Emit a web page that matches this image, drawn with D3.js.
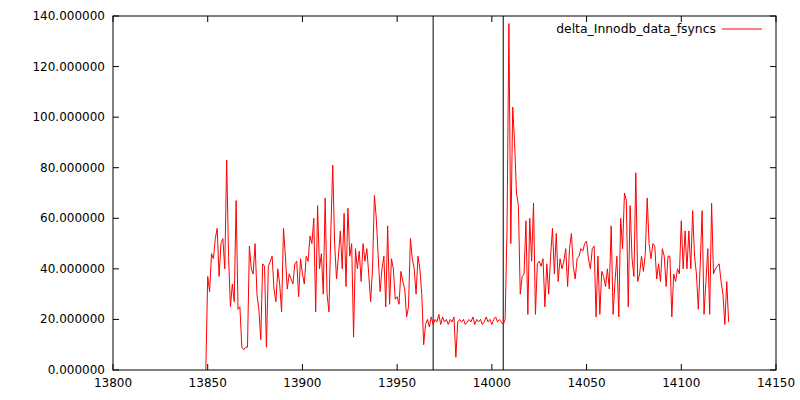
<!DOCTYPE html>
<html><head><meta charset="utf-8">
<script src="https://cdn.jsdelivr.net/npm/d3@7"></script>
<style>body{margin:0;background:#fff}</style></head>
<body><svg id="c" width="800" height="400"></svg>
<script>
const startX = 13849;
const values = [0,37,31,46,44,52,56,37,50,52,40,83,45,25,34,27,67,24,25,9,8,9,9,49,40,38,50,30,24,12,42,41,9,41,43,45,32,27,40,34,23,56,45,32,38,36,34,42,43,29,44,38,34,45,43,53,50,60,23,65,40,46,30,68,30,23,55,81,50,36,45,55,40,62,33,64,45,50,13,48,40,47,35,50,43,48,38,27,40,69,60,45,31,40,45,25,57,26,44,40,28,29,26,39,35,32,21,25,52,44,40,30,45,40,30,10,18,
20,17,21,18,20,19,22,18,21,19,20,18,20,19,21,5,19,20,19,20,18,19,20,19,21,18,20,19,20,18,19,21,19,20,18,20,21,19,20,19,18,20,
55,137,50,104,90,70,65,30,37,38,59,22,60,43,66,22,42,43,41,44,25,42,30,45,56,38,54,35,44,40,43,48,33,48,54,41,36,44,45,48,47,50,51,44,40,48,49,21,45,22,39,37,33,40,32,57,22,35,45,21,60,48,70,67,25,65,44,37,78,35,38,45,39,46,68,50,44,50,49,36,42,35,48,45,33,45,45,21,38,35,40,38,59,40,55,40,55,40,63,45,38,24,42,63,22,35,48,22,66,38,40,41,42,35,30,18,35,19];
const xs = values.map((v,i)=>startX+i);
const vlines = [13969, 14006];
const xTicks = [13800,13850,13900,13950,14000,14050,14100,14150];
const yTicks = [0,20,40,60,80,100,120,140];
const seriesName = "delta_Innodb_data_fsyncs";

const svg = d3.select("#c");
const L=113,R=776,T=16,B=370;
const x = d3.scaleLinear().domain([13800,14150]).range([L,R]);
const y = d3.scaleLinear().domain([0,140]).range([B,T]);
const font = "DejaVu Sans, sans-serif";
const g = svg.append("g");
xTicks.forEach(t=>{
  g.append("line").attr("x1",x(t)).attr("x2",x(t)).attr("y1",B).attr("y2",B-6).attr("stroke","#000");
  g.append("line").attr("x1",x(t)).attr("x2",x(t)).attr("y1",T).attr("y2",T+6).attr("stroke","#000");
  g.append("text").attr("x",x(t)).attr("y",B+17).attr("text-anchor","middle").attr("font-family",font).attr("font-size",12).text(t);
});
yTicks.forEach(t=>{
  g.append("line").attr("x1",L).attr("x2",L+6).attr("y1",y(t)).attr("y2",y(t)).attr("stroke","#000");
  g.append("line").attr("x1",R).attr("x2",R-6).attr("y1",y(t)).attr("y2",y(t)).attr("stroke","#000");
  g.append("text").attr("x",L-8).attr("y",y(t)+4).attr("text-anchor","end").attr("font-family",font).attr("font-size",12).text(t.toFixed(6));
});
g.append("rect").attr("x",L).attr("y",T).attr("width",R-L).attr("height",B-T).attr("fill","none").attr("stroke","#000");
vlines.forEach(v=>g.append("line").attr("x1",x(v)).attr("x2",x(v)).attr("y1",T).attr("y2",B).attr("stroke","#000"));
const line = d3.line().x((d,i)=>x(xs[i])).y(d=>y(d));
g.append("path").datum(values).attr("d",line).attr("fill","none").attr("stroke","#ff0000").attr("stroke-width",1);
g.append("text").attr("x",716).attr("y",33).attr("text-anchor","end").attr("font-family",font).attr("font-size",12.4).text(seriesName);
g.append("line").attr("x1",722).attr("x2",762).attr("y1",29).attr("y2",29).attr("stroke","#ff0000");
</script></body></html>
